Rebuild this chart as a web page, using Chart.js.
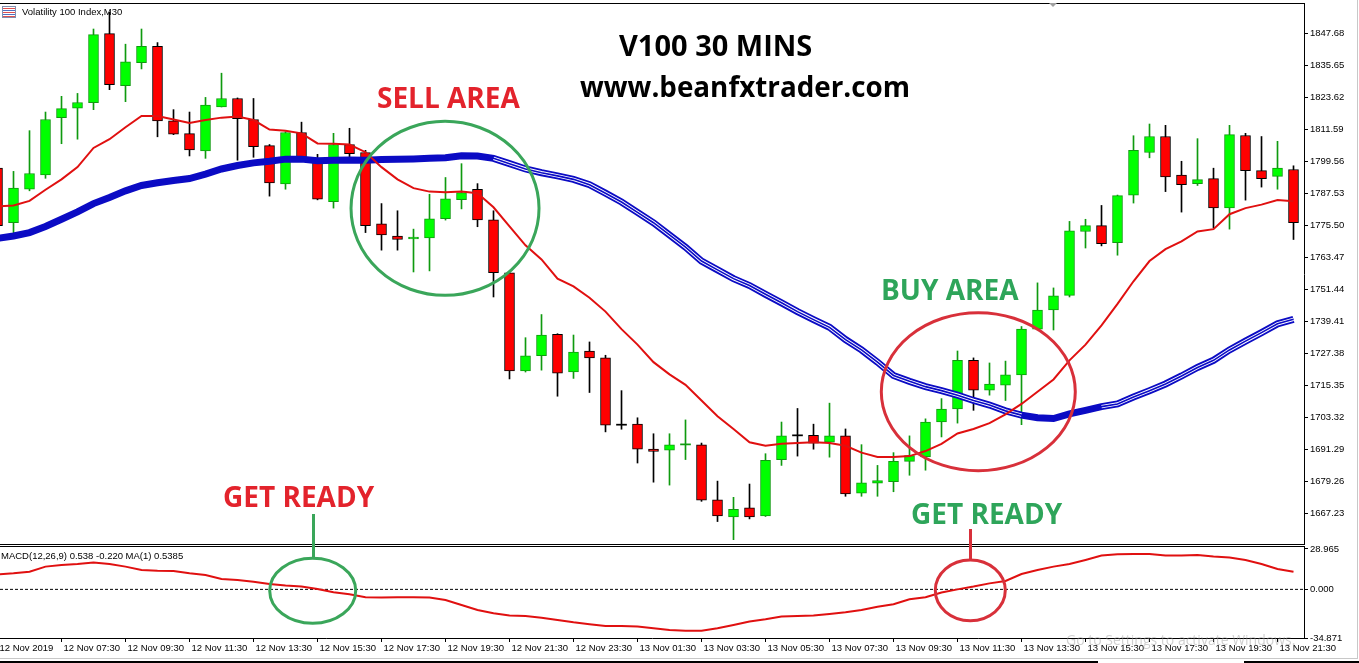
<!DOCTYPE html>
<html>
<head>
<meta charset="utf-8">
<script src="https://cdn.jsdelivr.net/npm/chart.js@4.4.0/dist/chart.umd.min.js"></script>
<style>
body{margin:0;width:1359px;height:663px;position:relative;overflow:hidden;background:#fff;font-family:"Liberation Sans",Arial,sans-serif}
.box{position:absolute;left:0;width:1359px}
.note{position:absolute;font-family:"Open Sans",sans-serif;font-weight:700;white-space:nowrap;line-height:1;font-size:28px}
.small{position:absolute;font-size:9.5px;color:#000;white-space:nowrap;line-height:1}
.vline{position:absolute;width:3px}
</style>
</head>
<body>
<div class="box" style="top:0;height:545px"><canvas id="priceChart"></canvas></div>
<div class="box" style="top:546px;height:117px"><canvas id="macdChart"></canvas></div>

<div style="position:absolute;left:2px;top:6px;width:12px;height:10px;border:1px solid #8090b0;background:repeating-linear-gradient(#fff 0 1px,#e05050 1px 2px,#fff 2px 3px,#5070c0 3px 4px)"></div>
<div class="small" style="left:22px;top:7px">Volatility 100 Index,M30</div>
<div class="small" style="left:1px;top:551px">MACD(12,26,9) 0.538 -0.220 MA(1) 0.5385</div>
<div style="position:absolute;left:1049px;top:3px;width:0;height:0;border-left:4px solid transparent;border-right:4px solid transparent;border-top:4px solid #a0a0a0"></div>

<div class="note" style="left:619px;top:30px;font-size:29px;color:#000">V100 30 MINS</div>
<div class="note" style="left:580px;top:73px;font-size:27.8px;color:#000">www.beanfxtrader.com</div>
<div class="note" style="left:377px;top:83px;color:#e3232c">SELL AREA</div>
<div class="note" style="left:881px;top:275px;color:#2ea55a">BUY AREA</div>
<div class="note" style="left:223px;top:482px;color:#e3232c">GET READY</div>
<div class="note" style="left:911px;top:499px;color:#2ea55a">GET READY</div>
<div class="vline" style="left:312px;top:514px;height:45px;background:#3aa65a"></div>
<div class="vline" style="left:969px;top:529px;height:32px;background:#d8303a"></div>

<div style="position:absolute;left:1066px;top:630px;font-family:'Open Sans',sans-serif;font-size:14px;color:rgba(150,150,150,0.45);white-space:nowrap">Go to Settings to activate Windows.</div>
<div style="position:absolute;left:0;top:658px;width:1357px;height:1px;background:#c8c8c8"></div>
<div style="position:absolute;left:1357px;top:0;width:1px;height:659px;background:#c8c8c8"></div>
<div style="position:absolute;left:0;top:661px;width:1098px;height:2px;background:#000"></div>
<div style="position:absolute;left:1244px;top:661px;width:115px;height:2px;background:#000"></div>

<script>
// Volatility 100 Index, M30 — one candle per half hour, 12 Nov 05:30 .. 13 Nov 22:00
const opens = [1796.9, 1776.4, 1789.0, 1794.4, 1815.9, 1819.5, 1821.5, 1847.5, 1827.9, 1836.6,
    1842.7, 1814.7, 1809.9, 1803.4, 1819.9, 1823.1, 1815.2, 1805.4, 1791.0, 1810.3,
    1800.2, 1784.3, 1805.8, 1802.8, 1776.0, 1771.4, 1770.3, 1770.7, 1777.9, 1785.1,
    1789.0, 1777.5, 1757.6, 1720.7, 1726.4, 1734.5, 1720.3, 1728.2, 1725.6, 1700.5,
    1700.7, 1691.3, 1690.9, 1693.1, 1692.9, 1672.3, 1665.8, 1669.3, 1666.2, 1687.4,
    1696.5, 1696.5, 1693.9, 1696.3, 1674.8, 1678.5, 1679.1, 1686.7, 1688.4, 1701.5,
    1706.4, 1724.7, 1713.5, 1715.4, 1719.2, 1736.4, 1743.6, 1749.1, 1773.1, 1775.3,
    1768.9, 1786.8, 1802.8, 1808.8, 1794.3, 1791.1, 1793.0, 1782.0, 1809.2, 1796.0,
    1793.8, 1796.4];
const highs = [1797.9, 1795.7, 1811.0, 1818.0, 1823.9, 1825.0, 1849.2, 1855.5, 1843.5, 1849.2,
    1844.1, 1818.9, 1818.0, 1823.5, 1832.6, 1823.3, 1823.1, 1805.8, 1810.6, 1814.2,
    1802.1, 1810.0, 1811.9, 1803.6, 1783.6, 1780.9, 1774.0, 1787.1, 1793.4, 1798.6,
    1791.1, 1780.9, 1757.8, 1733.2, 1741.9, 1734.7, 1734.2, 1731.6, 1726.6, 1713.3,
    1703.1, 1697.1, 1697.1, 1702.3, 1693.6, 1679.3, 1673.2, 1678.2, 1689.6, 1701.5,
    1706.6, 1700.7, 1708.6, 1698.9, 1693.0, 1685.2, 1690.0, 1696.3, 1702.7, 1710.3,
    1728.2, 1725.6, 1723.7, 1724.4, 1737.4, 1753.8, 1751.9, 1776.9, 1777.7, 1782.9,
    1786.8, 1809.1, 1813.5, 1813.0, 1799.5, 1808.0, 1796.9, 1813.0, 1810.0, 1808.8,
    1807.0, 1797.8];
const lows = [1774.3, 1772.4, 1788.4, 1793.1, 1806.1, 1807.8, 1818.9, 1826.4, 1821.9, 1834.2,
    1808.7, 1809.5, 1801.5, 1800.6, 1819.9, 1799.9, 1801.0, 1786.4, 1789.0, 1800.6,
    1785.0, 1781.9, 1799.1, 1772.7, 1766.1, 1766.1, 1757.9, 1758.3, 1777.4, 1781.6,
    1774.9, 1748.5, 1717.7, 1720.3, 1721.0, 1711.2, 1717.9, 1712.6, 1697.8, 1698.8,
    1686.1, 1678.9, 1677.8, 1687.4, 1671.7, 1664.1, 1657.3, 1665.1, 1666.0, 1685.2,
    1688.7, 1691.3, 1688.3, 1673.6, 1673.6, 1673.6, 1675.3, 1681.5, 1683.4, 1695.9,
    1701.1, 1705.9, 1711.6, 1709.6, 1700.5, 1736.2, 1736.1, 1748.5, 1766.9, 1767.7,
    1764.2, 1783.8, 1800.8, 1788.1, 1780.4, 1790.4, 1774.4, 1774.0, 1784.9, 1789.8,
    1789.0, 1770.1];
const closes = [1775.3, 1789.4, 1794.9, 1815.2, 1819.3, 1821.6, 1847.1, 1828.3, 1836.9, 1842.7,
    1814.7, 1809.7, 1803.8, 1820.6, 1823.1, 1815.5, 1805.0, 1791.4, 1810.3, 1800.8,
    1785.3, 1805.8, 1802.4, 1775.3, 1771.8, 1770.1, 1771.0, 1777.9, 1785.4, 1787.7,
    1777.5, 1757.6, 1720.7, 1726.4, 1734.2, 1719.9, 1727.8, 1725.6, 1700.3, 1700.5,
    1691.3, 1690.5, 1692.9, 1693.2, 1672.1, 1666.2, 1668.7, 1665.8, 1687.1, 1696.3,
    1696.5, 1693.6, 1696.3, 1674.5, 1678.7, 1679.5, 1686.7, 1688.9, 1701.5, 1706.4,
    1724.7, 1713.5, 1715.8, 1719.2, 1736.4, 1743.6, 1748.9, 1773.4, 1775.3, 1768.5,
    1786.6, 1803.6, 1808.8, 1793.6, 1790.7, 1792.6, 1782.0, 1809.5, 1796.0, 1793.0,
    1796.9, 1776.4];

// red moving average
const maFast = [1782.5, 1782.9, 1784.6, 1788.8, 1792.7, 1797.3, 1804.5, 1807.8, 1812.3, 1816.5,
    1816.5, 1815.2, 1813.9, 1815.0, 1815.9, 1816.3, 1815.0, 1811.4, 1811.0, 1810.0,
    1806.2, 1806.1, 1805.8, 1802.9, 1797.3, 1792.7, 1789.4, 1788.1, 1787.9, 1788.1,
    1787.5, 1782.2, 1775.0, 1767.9, 1762.6, 1755.4, 1752.5, 1748.2, 1743.0, 1736.4,
    1730.6, 1724.0, 1719.4, 1715.5, 1709.6, 1703.7, 1698.9, 1693.9, 1692.6, 1693.3,
    1693.6, 1693.9, 1693.6, 1692.6, 1690.0, 1688.4, 1688.4, 1688.7, 1690.6, 1693.3,
    1697.2, 1698.9, 1701.1, 1704.4, 1708.3, 1712.9, 1717.5, 1724.7, 1730.6, 1737.8,
    1745.9, 1754.4, 1762.0, 1766.5, 1769.4, 1773.1, 1774.0, 1779.6, 1781.9, 1783.2,
    1784.9, 1784.5];
// blue moving average band
const maSlow = [1770.5, 1771.4, 1772.7, 1775.0, 1777.7, 1780.5, 1783.6, 1785.9, 1788.4, 1790.4,
    1791.4, 1792.3, 1793.0, 1794.7, 1796.6, 1797.9, 1798.9, 1799.5, 1800.3, 1800.3,
    1799.7, 1799.9, 1800.0, 1799.9, 1800.2, 1800.3, 1800.4, 1800.6, 1800.8, 1801.6,
    1801.5, 1800.6, 1798.6, 1796.6, 1795.2, 1794.0, 1792.7, 1790.7, 1787.5, 1784.2,
    1780.3, 1776.4, 1771.8, 1767.2, 1762.0, 1758.7, 1755.4, 1752.8, 1749.5, 1746.3,
    1743.0, 1740.0, 1737.1, 1732.5, 1728.6, 1724.0, 1719.0, 1716.8, 1714.8, 1713.3,
    1711.6, 1709.6, 1707.9, 1705.7, 1704.1, 1703.1, 1702.8, 1704.6, 1705.9, 1707.3,
    1708.3, 1710.9, 1713.3, 1715.8, 1718.8, 1722.0, 1724.7, 1728.6, 1731.9, 1735.1,
    1738.4, 1740.1];
// MACD(12,26,9) main line
const macd = [10.8, 11.5, 12.7, 16.3, 17.5, 18.2, 19.2, 18.2, 16.3, 13.9,
    13.4, 13.2, 11.5, 10.3, 7.5, 6.7, 5.5, 3.9, 2.7, 2.0,
    0.3, -2.1, -3.5, -5.7, -5.9, -5.7, -5.7, -5.9, -7.6, -11.2,
    -14.8, -17.2, -18.8, -19.1, -20.3, -21.9, -23.6, -25.0, -26.2, -26.2,
    -26.7, -27.9, -29.1, -29.6, -29.6, -27.9, -25.5, -23.1, -21.5, -19.5,
    -19.1, -18.8, -17.6, -16.4, -14.8, -12.4, -10.7, -7.1, -5.7, -2.3,
    0.0, 2.0, 4.3, 6.0, 11.0, 13.9, 16.3, 18.2, 21.1, 24.2,
    25.1, 25.4, 25.4, 24.2, 24.2, 24.7, 23.5, 22.8, 21.1, 18.2,
    14.6, 12.7];

const priceTicks = [1847.68, 1835.65, 1823.62, 1811.59, 1799.56, 1787.53, 1775.50, 1763.47,
    1751.44, 1739.41, 1727.38, 1715.35, 1703.32, 1691.29, 1679.26, 1667.23];
const macdTicks = [28.965, 0, -34.871];
const timeTickIdx = [0, 4, 8, 12, 16, 20, 24, 28, 32, 36, 40, 44, 48, 52, 56, 60, 64, 68, 72, 76, 80];
const timeTickLabels = ['12 Nov 2019', '12 Nov 07:30', '12 Nov 09:30', '12 Nov 11:30', '12 Nov 13:30',
    '12 Nov 15:30', '12 Nov 17:30', '12 Nov 19:30', '12 Nov 21:30', '12 Nov 23:30', '13 Nov 01:30',
    '13 Nov 03:30', '13 Nov 05:30', '13 Nov 07:30', '13 Nov 09:30', '13 Nov 11:30', '13 Nov 13:30',
    '13 Nov 15:30', '13 Nov 17:30', '13 Nov 19:30', '13 Nov 21:30'];

const X_MIN = 0.156, X_MAX = 81.656;
const GREEN = '#00ff00', GREEN_EDGE = '#0f9a0f', RED = '#ff0000', BLUE = '#0b0bc4';

Chart.defaults.font.family = '"Liberation Sans", Arial, sans-serif';
Chart.defaults.font.size = 9.5;
Chart.defaults.color = '#000';

const isUp = (i) => closes[i] > opens[i];
const isDoji = (i) => Math.abs(closes[i] - opens[i]) < 0.4;
const pts = (arr) => arr.map((v, i) => ({ x: i, y: v }));
// blue band shows white gaps where the three averages spread apart
const striped = (i) => (i >= 31 && i <= 63) || i >= 69;

const ellipses = {
    id: 'ellipses',
    afterDatasetsDraw(chart, args, opts) {
        const { ctx, scales } = chart;
        ctx.save();
        (opts.items || []).forEach((e) => {
            ctx.beginPath();
            ctx.ellipse(scales.x.getPixelForValue(e.x), scales.y.getPixelForValue(e.y), e.rx, e.ry, 0, 0, Math.PI * 2);
            ctx.lineWidth = 3;
            ctx.strokeStyle = e.color;
            ctx.stroke();
        });
        ctx.restore();
    },
};

const frame = {
    id: 'frame',
    afterDraw(chart, args, opts) {
        const { ctx, chartArea } = chart;
        ctx.save();
        ctx.fillStyle = '#000';
        if (opts.top) ctx.fillRect(0, chartArea.top, chartArea.right + 1, 1);
        if (opts.bottom) ctx.fillRect(0, chartArea.bottom - 1, chartArea.right + 1, 1);
        ctx.restore();
    },
};

const fixedWidth = (w) => (s) => { s.width = w; s.paddingTop = 0; s.paddingBottom = 0; };

new Chart(document.getElementById('priceChart'), {
    type: 'bar',
    data: {
        datasets: [
            {
                type: 'line', label: 'MA fast', data: pts(maFast), order: 0,
                borderColor: '#e01010', borderWidth: 2, pointRadius: 0, tension: 0,
            },
            {
                type: 'line', label: 'MA slow core', data: pts(maSlow), order: 1,
                borderColor: BLUE, borderWidth: 1.6, pointRadius: 0, tension: 0,
            },
            {
                type: 'line', label: 'MA slow gap', data: pts(maSlow), order: 2,
                borderColor: 'rgba(0,0,0,0)', borderWidth: 3.4, pointRadius: 0, tension: 0,
                segment: { borderColor: (c) => (striped(c.p0DataIndex) ? '#ffffff' : 'rgba(0,0,0,0)') },
            },
            {
                type: 'line', label: 'MA slow', data: pts(maSlow), order: 3,
                borderColor: BLUE, borderWidth: 7, pointRadius: 0, tension: 0,
            },
            {
                label: 'body', order: 4, grouped: false, barThickness: 10,
                data: opens.map((o, i) => (isDoji(i) ? { x: i, y: [o - 0.2, o + 0.2] } : { x: i, y: [o, closes[i]] })),
                backgroundColor: (c) => (isDoji(c.dataIndex) ? (isUp(c.dataIndex) ? GREEN_EDGE : '#000') : (isUp(c.dataIndex) ? GREEN : RED)),
                borderColor: (c) => (isUp(c.dataIndex) ? GREEN_EDGE : '#000'),
                borderWidth: (c) => (isDoji(c.dataIndex) ? 0 : 1),
                borderSkipped: false,
            },
            {
                label: 'wick', order: 5, grouped: false, barThickness: 1,
                data: lows.map((l, i) => ({ x: i, y: [l, highs[i]] })),
                backgroundColor: (c) => (isUp(c.dataIndex) ? GREEN_EDGE : '#000'),
                borderWidth: 0,
            },
        ],
    },
    options: {
        responsive: true,
        maintainAspectRatio: false,
        animation: false,
        layout: { padding: { top: 3, bottom: 0, left: 0, right: 0 } },
        scales: {
            x: { type: 'linear', min: X_MIN, max: X_MAX, offset: false, display: false, grid: { offset: false } },
            y: {
                position: 'right', min: 1655.29, max: 1858.98,
                afterBuildTicks: (s) => { s.ticks = priceTicks.map((v) => ({ value: v })); },
                afterFit: fixedWidth(55),
                ticks: { callback: (v) => v.toFixed(2), padding: 2 },
                grid: { drawOnChartArea: false, tickLength: 4, color: '#000' },
                border: { color: '#000' },
            },
        },
        plugins: {
            legend: { display: false },
            tooltip: { enabled: false },
            frame: { top: true, bottom: true },
            ellipses: {
                items: [
                    { x: 27.97, y: 1781.8, rx: 94, ry: 87, color: '#3aa65a' },
                    { x: 61.3, y: 1712.9, rx: 97, ry: 79, color: '#d8303a' },
                ],
            },
        },
    },
    plugins: [frame, ellipses],
});

new Chart(document.getElementById('macdChart'), {
    type: 'line',
    data: {
        datasets: [
            {
                label: 'MACD', data: pts(macd),
                borderColor: '#e01010', borderWidth: 2, pointRadius: 0, tension: 0,
            },
            {
                label: 'zero', data: [{ x: X_MIN, y: 0 }, { x: X_MAX, y: 0 }],
                borderColor: '#000', borderWidth: 1, borderDash: [3, 2], pointRadius: 0,
            },
        ],
    },
    options: {
        responsive: true,
        maintainAspectRatio: false,
        animation: false,
        layout: { padding: 0 },
        scales: {
            x: {
                type: 'linear', min: X_MIN, max: X_MAX, offset: false,
                afterBuildTicks: (s) => { s.ticks = timeTickIdx.map((v) => ({ value: v })); },
                afterFit: (s) => { s.height = 25; s.paddingLeft = 0; s.paddingRight = 0; },
                ticks: {
                    callback: (v, i) => timeTickLabels[i], align: 'start', labelOffset: 2,
                    autoSkip: false, maxRotation: 0, padding: 1,
                },
                grid: { drawOnChartArea: false, tickLength: 4, color: '#000', offset: false },
                border: { color: '#000' },
            },
            y: {
                position: 'right', min: -34.871, max: 31.09,
                afterBuildTicks: (s) => { s.ticks = macdTicks.map((v) => ({ value: v })); },
                afterFit: fixedWidth(55),
                ticks: { callback: (v) => v.toFixed(3), padding: 2 },
                grid: { drawOnChartArea: false, tickLength: 4, color: '#000' },
                border: { color: '#000' },
            },
        },
        plugins: {
            legend: { display: false },
            tooltip: { enabled: false },
            frame: { top: true, bottom: false },
            ellipses: {
                items: [
                    { x: 19.7, y: -1.0, rx: 43, ry: 32.5, color: '#3aa65a' },
                    { x: 60.8, y: -0.7, rx: 35, ry: 30.3, color: '#d8303a' },
                ],
            },
        },
    },
    plugins: [frame, ellipses],
});
</script>
</body>
</html>
